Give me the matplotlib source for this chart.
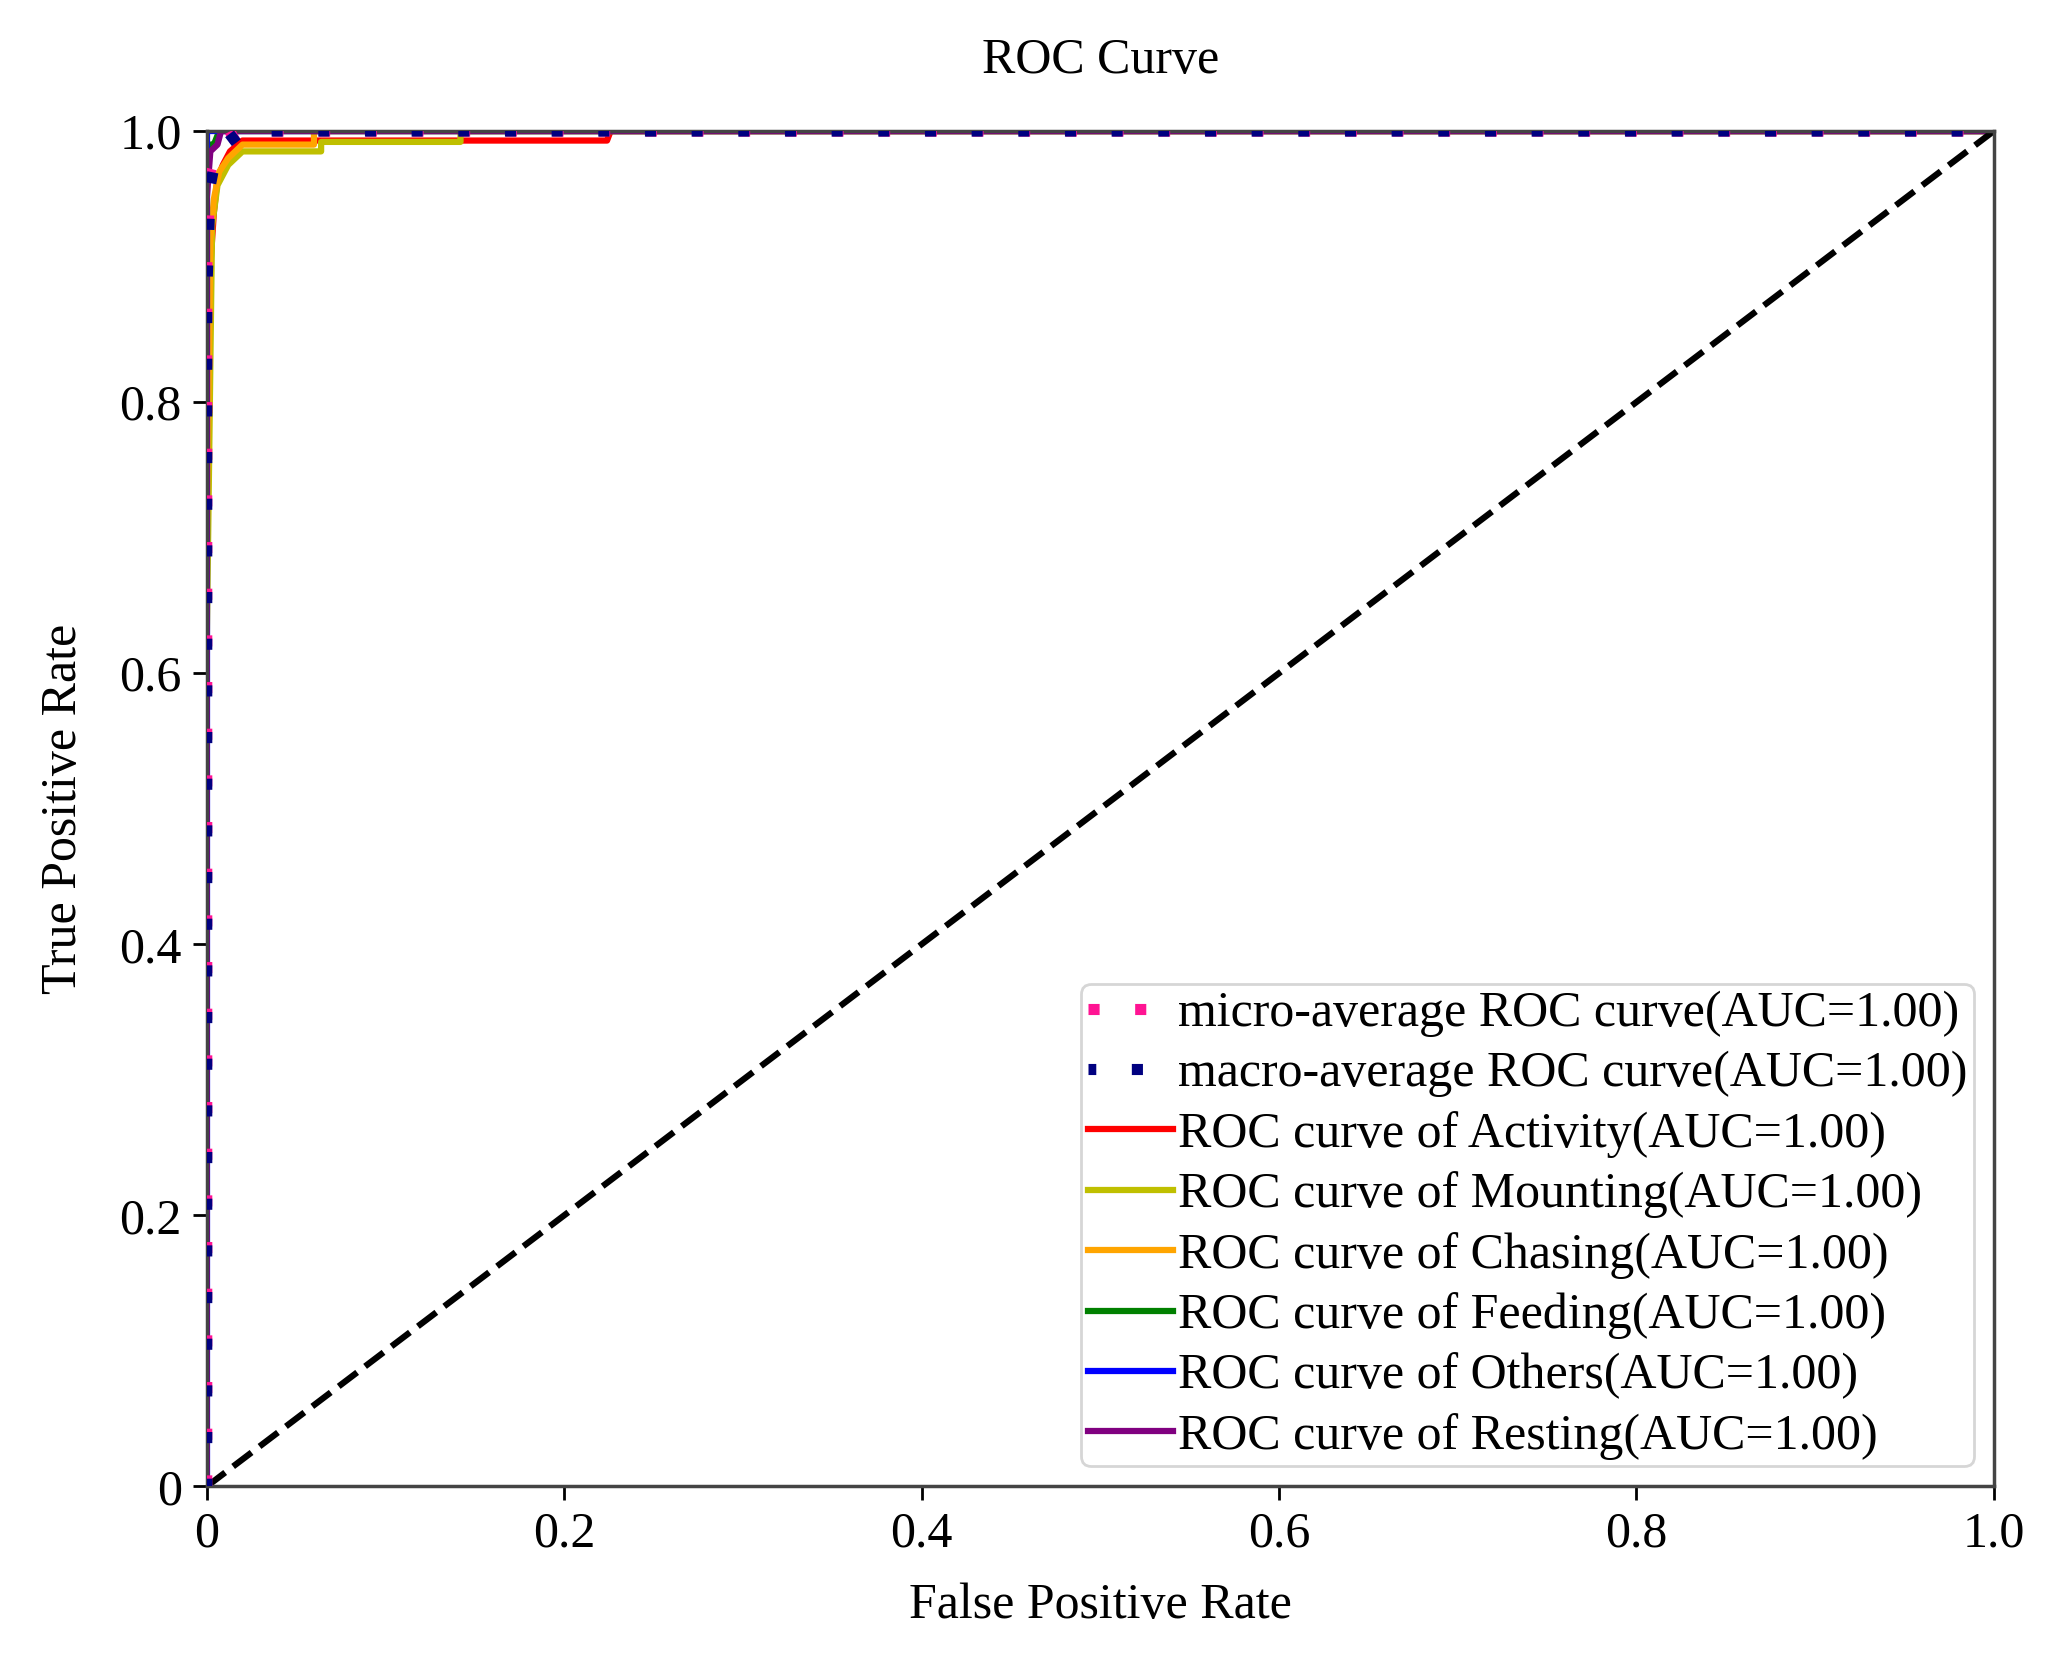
import matplotlib
matplotlib.use("Agg")
from matplotlib import pyplot as plt

plt.rcParams['font.family'] = ['Liberation Serif', 'DejaVu Serif']

# per-class ROC points (all AUC ~ 1.00)
class_names = ['Activity', 'Mounting', 'Chasing', 'Feeding', 'Others', 'Resting']
class_colors = ['red', 'y', 'orange', 'green', 'blue', 'purple']

fpr_activity = [0, 0, 0.002, 0.004, 0.006, 0.009, 0.013, 0.02, 0.224, 0.226, 1]
tpr_activity = [0, 0.80, 0.90, 0.94, 0.965, 0.975, 0.985, 0.993, 0.993, 1.0, 1]

fpr_mounting = [0, 0, 0.003, 0.006, 0.012, 0.02, 0.064, 0.064, 0.142, 0.142, 1]
tpr_mounting = [0, 0.62, 0.93, 0.96, 0.975, 0.985, 0.985, 0.992, 0.992, 1.0, 1]

fpr_chasing = [0, 0, 0.002, 0.004, 0.007, 0.012, 0.02, 0.06, 0.06, 1]
tpr_chasing = [0, 0.70, 0.92, 0.95, 0.97, 0.98, 0.99, 0.99, 1.0, 1]

fpr_feeding = [0, 0, 0.002, 0.004, 0.007, 1]
tpr_feeding = [0, 0.97, 0.99, 0.99, 1.0, 1]

fpr_others = [0, 0, 0.01, 1]
tpr_others = [0, 1.0, 1.0, 1]

fpr_resting = [0, 0, 0.002, 0.006, 0.008, 1]
tpr_resting = [0, 0.95, 0.985, 0.99, 1.0, 1]

fpr_micro = [0, 0, 0.002, 0.005, 0.01, 0.02, 1]
tpr_micro = [0, 0.90, 0.97, 0.985, 0.993, 1.0, 1]

fpr_macro = [0, 0, 0.002, 0.005, 0.01, 0.02, 1]
tpr_macro = [0, 0.88, 0.96, 0.98, 0.99, 1.0, 1]

auc_values = [1.00, 1.00, 1.00, 1.00, 1.00, 1.00]
auc_micro = 1.00
auc_macro = 1.00

class_fpr = [fpr_activity, fpr_mounting, fpr_chasing, fpr_feeding, fpr_others, fpr_resting]
class_tpr = [tpr_activity, tpr_mounting, tpr_chasing, tpr_feeding, tpr_others, tpr_resting]

fig = plt.figure(figsize=(20.47, 16.59), dpi=100)
ax = fig.add_axes([0.101, 0.104, 0.873, 0.817])

ax.plot(fpr_micro, tpr_micro, color='deeppink', linestyle=(0, (1, 3.2)), linewidth=8,
        label='micro-average ROC curve(AUC={0:0.2f})'.format(auc_micro), zorder=3)
ax.plot(fpr_macro, tpr_macro, color='navy', linestyle=(0.3, (1, 3.2)), linewidth=8,
        label='macro-average ROC curve(AUC={0:0.2f})'.format(auc_macro), zorder=3)

for fpr, tpr, name, col, auc in zip(class_fpr, class_tpr, class_names, class_colors, auc_values):
    ax.plot(fpr, tpr, color=col, linewidth=4.5,
            label='ROC curve of {0}(AUC={1:0.2f})'.format(name, auc))

ax.plot([0, 1], [0, 1], 'k--', linewidth=4.5)

ax.set_xlim(0, 1.0)
ax.set_ylim(0, 1.0)
ax.set_xticks([0, 0.2, 0.4, 0.6, 0.8, 1.0])
ax.set_xticklabels(['0', '0.2', '0.4', '0.6', '0.8', '1.0'])
ax.set_yticks([0, 0.2, 0.4, 0.6, 0.8, 1.0])
ax.set_yticklabels(['0', '0.2', '0.4', '0.6', '0.8', '1.0'])
ax.tick_params(labelsize=36, length=10, width=2, pad=8)
for sp in ax.spines.values():
    sp.set_linewidth(2.5)
    sp.set_color('#444444')

ax.set_xlabel('False Positive Rate', fontsize=36, labelpad=18)
ax.set_ylabel('True Positive Rate', fontsize=36, labelpad=23)
ax.set_title('ROC Curve', fontsize=36, pad=42)

leg = ax.legend(loc='lower right', fontsize=36, handlelength=1.7, handletextpad=0.1,
                labelspacing=0.27, borderpad=0.13, borderaxespad=0.4, fancybox=True)
leg.get_frame().set_edgecolor('#cccccc')
leg.get_frame().set_linewidth(2)

fig.savefig('out.png', dpi=100)
